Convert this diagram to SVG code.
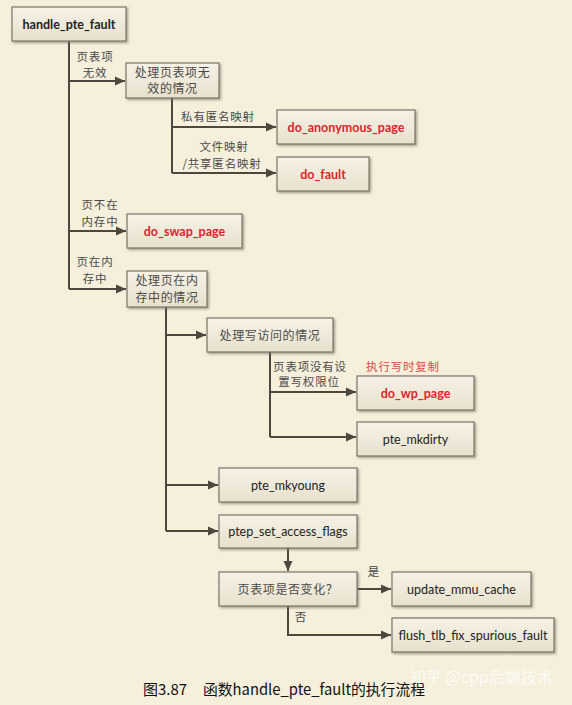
<svg xmlns="http://www.w3.org/2000/svg" width="572" height="705" viewBox="0 0 572 705">
<defs>
<linearGradient id="bg" x1="0" y1="0" x2="0" y2="1">
<stop offset="0" stop-color="#f6f2e6"/>
<stop offset="1" stop-color="#e7e0cc"/>
</linearGradient>
<filter id="sh" x="-10%" y="-20%" width="130%" height="150%">
<feDropShadow dx="1.5" dy="1.5" stdDeviation="1" flood-color="#6f6a5c" flood-opacity="0.6"/>
</filter>
<marker id="ah" markerUnits="userSpaceOnUse" markerWidth="12" markerHeight="12" viewBox="0 0 12 12" refX="11" refY="6" orient="auto">
<path d="M1 1.5 L11 6 L1 10.5 Z" fill="#4d473e"/>
</marker>
</defs>
<style>
.box{fill:url(#bg);stroke:#7c766a;stroke-width:1.2;filter:url(#sh)}
.code{font-family:Lato,"Liberation Sans",sans-serif;font-size:12.5px;fill:#222;text-anchor:middle}
.red{fill:#e0232c;font-weight:bold}
.bold{font-weight:bold}
.cn{font-family:"Noto Sans CJK SC",sans-serif;font-size:12px;letter-spacing:0.6px;fill:#4a4a4a;text-anchor:middle}
.lbl{font-family:"Noto Sans CJK SC",sans-serif;font-size:11.5px;letter-spacing:0.8px;fill:#4a4a4a;text-anchor:middle}
.ln{fill:none;stroke:#4d473e;stroke-width:2}
</style>
<rect x="0" y="0" width="572" height="705" fill="#f5efdc"/>

<g id="connectors">
<path class="ln" d="M69 41 V289"/>
<path class="ln" d="M69 81 H125" marker-end="url(#ah)"/>
<path class="ln" d="M69 231 H126" marker-end="url(#ah)"/>
<path class="ln" d="M69 289 H126" marker-end="url(#ah)"/>
<path class="ln" d="M172 98 V173"/>
<path class="ln" d="M172 127 H276" marker-end="url(#ah)"/>
<path class="ln" d="M172 173 H276" marker-end="url(#ah)"/>
<path class="ln" d="M166 307 V531"/>
<path class="ln" d="M166 335 H206" marker-end="url(#ah)"/>
<path class="ln" d="M166 485 H218" marker-end="url(#ah)"/>
<path class="ln" d="M166 531 H218" marker-end="url(#ah)"/>
<path class="ln" d="M270 352 V437"/>
<path class="ln" d="M270 392 H356" marker-end="url(#ah)"/>
<path class="ln" d="M270 437 H356" marker-end="url(#ah)"/>
<path class="ln" d="M288 548 V571" marker-end="url(#ah)"/>
<path class="ln" d="M357 589 H391" marker-end="url(#ah)"/>
<path class="ln" d="M288 606 V635 H391" marker-end="url(#ah)"/>
</g>

<g id="edge-labels">
<text class="lbl" x="95" y="61">页表项</text>
<text class="lbl" x="95" y="77">无效</text>
<text class="lbl" x="218" y="121">私有匿名映射</text>
<text class="lbl" x="224" y="151">文件映射</text>
<text class="lbl" x="222" y="168">/共享匿名映射</text>
<text class="lbl" x="100" y="209">页不在</text>
<text class="lbl" x="100" y="226">内存中</text>
<text class="lbl" x="95" y="266">页在内</text>
<text class="lbl" x="95" y="283">存中</text>
<text class="lbl" x="310" y="371">页表项没有设</text>
<text class="lbl" x="309" y="386">置写权限位</text>
<text class="lbl" x="403" y="371" style="fill:#e24a4a">执行写时复制</text>
<text class="lbl" x="374" y="576">是</text>
<text class="lbl" x="301" y="621">否</text>
</g>

<g id="handle_pte_fault">
<rect class="box" x="12" y="7" width="114" height="34"/>
<text class="code bold" x="69" y="28.5">handle_pte_fault</text>
</g>
<g id="invalid_pte">
<rect class="box" x="126" y="63" width="93" height="35"/>
<text class="cn" x="172.5" y="77">处理页表项无</text>
<text class="cn" x="172.5" y="93">效的情况</text>
</g>
<g id="do_anonymous_page">
<rect class="box" x="277" y="110" width="138" height="34"/>
<text class="code red" x="346" y="131.5">do_anonymous_page</text>
</g>
<g id="do_fault">
<rect class="box" x="277" y="157" width="92" height="34"/>
<text class="code red" x="323" y="178.5">do_fault</text>
</g>
<g id="do_swap_page">
<rect class="box" x="127" y="214" width="115" height="34"/>
<text class="code red" x="184.5" y="235.5">do_swap_page</text>
</g>
<g id="page_present">
<rect class="box" x="127" y="271" width="80" height="36"/>
<text class="cn" x="167" y="285">处理页在内</text>
<text class="cn" x="167" y="302">存中的情况</text>
</g>
<g id="write_access">
<rect class="box" x="207" y="318" width="126" height="34"/>
<text class="cn" x="270" y="339.5">处理写访问的情况</text>
</g>
<g id="do_wp_page">
<rect class="box" x="357" y="376" width="117" height="34"/>
<text class="code red" x="415.5" y="397.5">do_wp_page</text>
</g>
<g id="pte_mkdirty">
<rect class="box" x="357" y="422" width="117" height="34"/>
<text class="code" x="415.5" y="443.5">pte_mkdirty</text>
</g>
<g id="pte_mkyoung">
<rect class="box" x="219" y="468" width="138" height="34"/>
<text class="code" x="288" y="489.5">pte_mkyoung</text>
</g>
<g id="ptep_set_access_flags">
<rect class="box" x="219" y="515" width="138" height="33"/>
<text class="code" x="288" y="536">ptep_set_access_flags</text>
</g>
<g id="pte_changed">
<rect class="box" x="219" y="572" width="138" height="34"/>
<text class="cn" x="288" y="593.5">页表项是否变化？</text>
</g>
<g id="update_mmu_cache">
<rect class="box" x="392" y="572" width="139" height="34"/>
<text class="code" x="461.5" y="593.5">update_mmu_cache</text>
</g>
<g id="flush_tlb_fix_spurious_fault">
<rect class="box" x="392" y="618" width="162" height="34"/>
<text class="code" x="473" y="639.5">flush_tlb_fix_spurious_fault</text>
</g>

<g id="caption">
<text x="143" y="695" font-family="'Noto Sans CJK SC',sans-serif" font-size="15" fill="#111">图3.87</text>
<text x="203" y="695" font-family="'Noto Sans CJK SC',sans-serif" font-size="15" fill="#111" textLength="222" lengthAdjust="spacingAndGlyphs">函数handle_pte_fault的执行流程</text>
</g>
<g id="watermark">
<text x="410" y="683" font-family="'Noto Sans CJK SC',sans-serif" font-size="16" fill="#ffffff" fill-opacity="0.75">知乎 @cpp后端技术</text>
</g>
</svg>
